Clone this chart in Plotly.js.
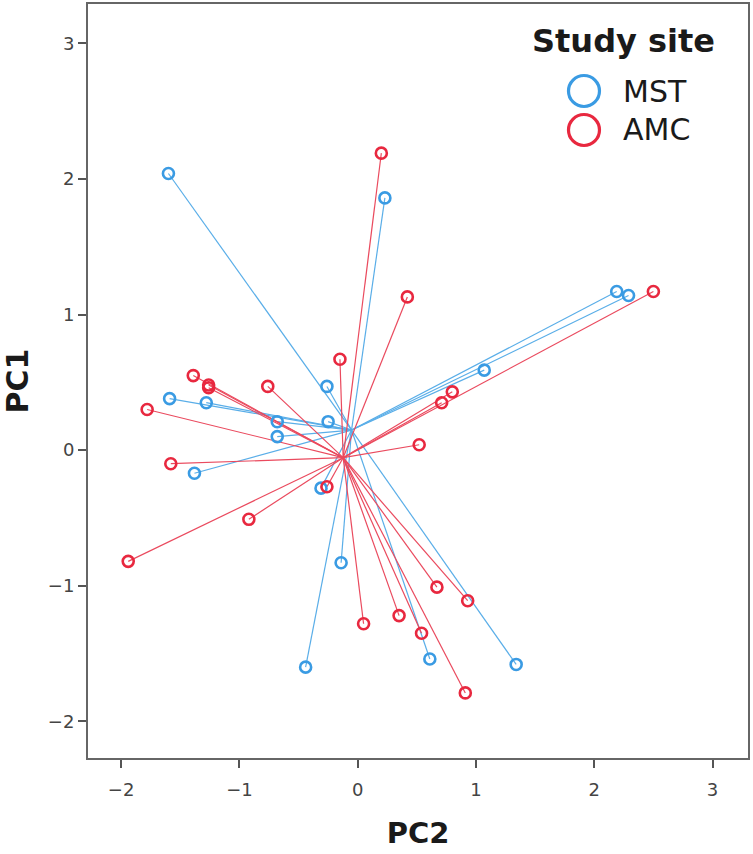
<!DOCTYPE html>
<html>
<head>
<meta charset="utf-8">
<script src="https://cdn.plot.ly/plotly-3.0.1.min.js"></script>
<style>
  html, body { margin: 0; padding: 0; background: #fff; }
  #chart { width: 753px; height: 854px; }
</style>
</head>
<body>
<div id="chart"></div>
<script>
// PCA scores per study site (x = PC2, y = PC1)
const mstPC2 = [-1.60, 0.23, 2.19, 2.29, 1.07, -0.26, -1.59, -1.28, -0.68, -0.25, -0.68, -1.38, -0.31, -0.14, -0.44, 0.61, 1.34];
const mstPC1 = [ 2.04, 1.86, 1.17, 1.14, 0.59,  0.47,  0.38,  0.35,  0.21,  0.21,  0.10, -0.17, -0.28, -0.83, -1.60, -1.54, -1.58];

const amcPC2 = [0.20, 0.42, 2.50, -0.15, -1.39, -1.26, -1.26, -0.76, -1.78, 0.80, 0.71, 0.52, -1.58, -0.26, -0.92, -1.94, 0.67, 0.93, 0.05, 0.35, 0.54, 0.91];
const amcPC1 = [2.19, 1.13, 1.17,  0.67,  0.55,  0.48,  0.46,  0.47,  0.30, 0.43, 0.35, 0.04, -0.10, -0.27, -0.51, -0.82, -1.01, -1.11, -1.28, -1.22, -1.35, -1.79];

const siteNames = ['MST', 'AMC'];
const siteColors = ['#3a9be3', '#e8283f'];
const spokeColors = ['#5aaee8', '#ea4a5e'];

const xTicks = [-2, -1, 0, 1, 2, 3];
const yTicks = [-2, -1, 0, 1, 2, 3];

function mean(a) { return a.reduce((s, v) => s + v, 0) / a.length; }

// Star plot: each point joined to its group centroid
function spokes(xs, ys) {
  const cx = mean(xs), cy = mean(ys);
  const lx = [], ly = [];
  for (let i = 0; i < xs.length; i++) {
    lx.push(cx, xs[i], null);
    ly.push(cy, ys[i], null);
  }
  return { lx, ly };
}

const groups = [[mstPC2, mstPC1], [amcPC2, amcPC1]];
const traces = [];
groups.forEach((g, k) => {
  const s = spokes(g[0], g[1]);
  traces.push({
    x: s.lx, y: s.ly, type: 'scatter', mode: 'lines',
    line: { color: spokeColors[k], width: 1.2 },
    hoverinfo: 'skip', showlegend: false
  });
});
groups.forEach((g, k) => {
  traces.push({
    x: g[0], y: g[1], type: 'scatter', mode: 'markers', name: siteNames[k],
    marker: { symbol: 'circle-open', size: 11, color: siteColors[k], line: { width: 2.6, color: siteColors[k] } },
    showlegend: false
  });
});

// Legend drawn by hand so the symbols can be large
const legendY = [0.8846, 0.8329];
const shapes = siteNames.map((n, k) => ({
  type: 'circle', xref: 'paper', yref: 'paper',
  xsizemode: 'pixel', ysizemode: 'pixel',
  xanchor: 0.7515, yanchor: legendY[k],
  x0: -15.5, x1: 15.5, y0: -15.5, y1: 15.5,
  line: { color: siteColors[k], width: 3.2 }
}));
const annotations = [{
  text: '<b>Study site</b>', xref: 'paper', yref: 'paper', x: 0.812, y: 0.951,
  xanchor: 'center', yanchor: 'middle', showarrow: false,
  font: { family: 'DejaVu Sans', size: 32, color: '#1a1a1a' }
}].concat(siteNames.map((n, k) => ({
  text: n, xref: 'paper', yref: 'paper', x: 0.808, y: legendY[k],
  xanchor: 'left', yanchor: 'middle', showarrow: false,
  font: { family: 'DejaVu Sans', size: 30, color: '#1a1a1a' }
})));

const axisCommon = {
  showgrid: false, zeroline: false,
  showline: true, mirror: true, linecolor: '#666', linewidth: 2,
  ticks: 'outside', ticklen: 8, tickwidth: 2, tickcolor: '#555',
  tickfont: { family: 'DejaVu Sans', size: 18, color: '#444' }
};

const layout = {
  width: 753, height: 854,
  margin: { l: 88, r: 5, t: 4, b: 96 },
  paper_bgcolor: '#fff', plot_bgcolor: '#fff',
  xaxis: Object.assign({}, axisCommon, {
    range: [-2.28, 3.30], tickvals: xTicks, ticklabelstandoff: 6,
    title: { text: '<b>PC2</b>', font: { family: 'DejaVu Sans', size: 29, color: '#1a1a1a' }, standoff: 24 }
  }),
  yaxis: Object.assign({}, axisCommon, {
    range: [-2.27, 3.29], tickvals: yTicks,
    title: { text: '<b>PC1</b>', font: { family: 'DejaVu Sans', size: 30, color: '#1a1a1a' }, standoff: 14 }
  }),
  shapes: shapes,
  annotations: annotations,
  showlegend: false
};

Plotly.newPlot('chart', traces, layout, { displayModeBar: false, staticPlot: true });
</script>
</body>
</html>
